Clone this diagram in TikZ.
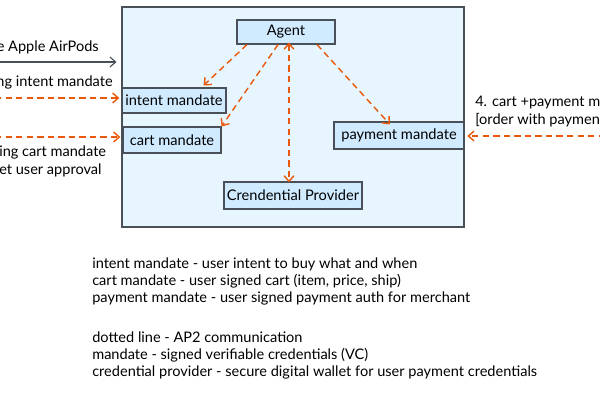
\documentclass[tikz,border=0pt]{standalone}
\usepackage{xcolor}
\usepackage{fontspec}
\setmainfont{Lato}
\usetikzlibrary{arrows.meta}
\definecolor{skyback}{HTML}{E7F5FF}
\definecolor{skybox}{HTML}{D0EBFF}
\definecolor{apline}{HTML}{E8590C}
\definecolor{boxline}{HTML}{495057}
\newcommand\pxl{0.025cm}
\tikzstyle{frame} = [rectangle, draw=boxline, fill=skyback, line width=0.8pt, inner sep=0pt]
\tikzstyle{mandate} = [rectangle, draw=boxline, fill=skybox, line width=0.8pt, inner sep=0pt, font=\fontsize{10.4}{12}\selectfont]
\tikzstyle{apflow} = [draw=apline, line width=1pt, dash pattern=on 4.5pt off 3pt, -{Straight Barb[length=4pt,width=7pt]}]
\tikzstyle{apboth} = [apflow, {Straight Barb[length=4pt,width=7pt]}-{Straight Barb[length=4pt,width=7pt]}]
\tikzstyle{userflow} = [draw=boxline, line width=0.8pt, -{Straight Barb[length=4pt,width=7pt]}]
\tikzstyle{note} = [align=left, inner sep=0pt, font=\fontsize{10.35}{12.3}\selectfont]

\begin{document}
\begin{tikzpicture}[x=\pxl, y=-\pxl]
\useasboundingbox (0,0) rectangle (600,400);
\clip (0,0) rectangle (600,400);
\fill[white] (0,0) rectangle (600,400);

\node (system) [frame, minimum width=342*\pxl, minimum height=220*\pxl] at (293,117) {};
\node (agent) [mandate, minimum width=98*\pxl, minimum height=24*\pxl] at (286,32) {Agent};
\node (intent) [mandate, minimum width=104*\pxl, minimum height=25*\pxl] at (174,100.5) {intent mandate};
\node (cart) [mandate, minimum width=98*\pxl, minimum height=26*\pxl] at (172,140) {cart mandate};
\node (payment) [mandate, minimum width=130*\pxl, minimum height=27*\pxl] at (399,135.5) {payment mandate};
\node (cred) [mandate, minimum width=138*\pxl, minimum height=27*\pxl] at (293,195.5) {Crendential Provider};

% agent to mandates
\draw[apflow] ([xshift=-39*\pxl]agent.south) -- ([xshift=-23*\pxl,yshift=2*\pxl]intent.north east);
\draw[apflow] ([xshift=-8*\pxl]agent.south) -- (cart.north east);
\draw[apboth] ([xshift=3*\pxl,yshift=2*\pxl]agent.south) -- ([xshift=-4*\pxl,yshift=-1*\pxl]cred.north);
\draw[apflow] ([xshift=31*\pxl]agent.south) -- ([xshift=-9*\pxl,yshift=-3*\pxl]payment.north);

% outside flows
\coordinate (buyin) at (-5,62);
\coordinate (intentin) at (-5,98);
\coordinate (cartin) at (-5,137);
\coordinate (payin) at (605,136);
\draw[userflow, shorten >=3.5pt] (buyin) -- (buyin -| system.west);
\draw[apflow, shorten >=1.5pt] (intentin) -- (intentin -| intent.west);
\draw[apflow, shorten >=1.5pt] (cartin) -- (cartin -| cart.west);
\draw[apflow, shorten >=2pt] (payin) -- (payin -| payment.east);

\node (buylbl) [note, anchor=base east] at (99,52) {e Apple AirPods};
\node (intentlbl) [note, anchor=base east] at (113,87) {ng intent mandate};
\node (cartlbl) [note, anchor=north west] at (-1,146) {ing cart mandate\\et user approval};
\node (paylbl) [note, anchor=north west] at (475,96) {4. cart +payment mandate\\{}[order with payment};

% legend
\node (legend) [note, anchor=north west] at (92,257) {intent mandate - user intent to buy what and when\\
cart mandate - user signed cart (item, price, ship)\\
payment mandate - user signed payment auth for merchant\\[16pt]
dotted line - AP2 communication\\
mandate - signed verifiable credentials (VC)\\
credential provider - secure digital wallet for user payment credentials};
\end{tikzpicture}
\end{document}
